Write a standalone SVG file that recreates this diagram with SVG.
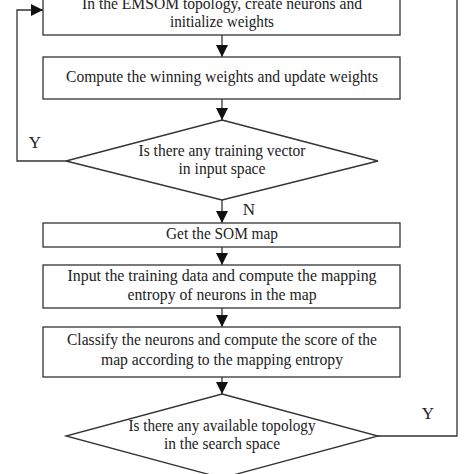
<svg xmlns="http://www.w3.org/2000/svg" width="474" height="474" viewBox="0 0 474 474">
<defs>
<style>
.n{fill:#fff;stroke:#333;stroke-width:1.3}
.t{font-family:"Liberation Serif","Times New Roman",serif;font-size:17px;fill:#222;text-anchor:middle}
.c{fill:none;stroke:#333;stroke-width:1.3}
</style>
<marker id="a" viewBox="0 0 10 10" refX="10" refY="5" markerWidth="12" markerHeight="12" markerUnits="userSpaceOnUse" orient="auto">
<path d="M0,0 L10,5 L0,10 Z" fill="#111"/>
</marker>
</defs>
<rect width="474" height="474" fill="#fff"/>
<g id="connectors">
<line class="c" x1="222" y1="35" x2="222" y2="57" marker-end="url(#a)"/>
<line class="c" x1="222" y1="99" x2="222" y2="120" marker-end="url(#a)"/>
<polyline class="c" points="66,161 17,161 17,10 43,10" marker-end="url(#a)"/>
<line class="c" x1="222" y1="200" x2="222" y2="223" marker-end="url(#a)"/>
<line class="c" x1="222" y1="247" x2="222" y2="265" marker-end="url(#a)"/>
<line class="c" x1="222" y1="308" x2="222" y2="327" marker-end="url(#a)"/>
<line class="c" x1="222" y1="377" x2="222" y2="394" marker-end="url(#a)"/>
<polyline class="c" points="378,436 457,436 457,-5"/>
<text class="t" x="35" y="148">Y</text>
<text class="t" x="249" y="215">N</text>
<text class="t" x="428" y="419">Y</text>
</g>
<g id="n1">
<rect class="n" x="43" y="-8" width="357" height="43"/>
<text class="t" x="222" y="9" textLength="280" lengthAdjust="spacingAndGlyphs">In the EMSOM topology, create neurons and</text>
<text class="t" x="222" y="27" textLength="104" lengthAdjust="spacingAndGlyphs">initialize weights</text>
</g>
<g id="n2">
<rect class="n" x="43" y="57" width="357" height="42"/>
<text class="t" x="222" y="82" textLength="312" lengthAdjust="spacingAndGlyphs">Compute the winning weights and update weights</text>
</g>
<g id="n3">
<polygon class="n" points="222,120 378,161 222,200 66,161"/>
<text class="t" x="222" y="156" textLength="167" lengthAdjust="spacingAndGlyphs">Is there any training vector</text>
<text class="t" x="222" y="174" textLength="87" lengthAdjust="spacingAndGlyphs">in input space</text>
</g>
<g id="n4">
<rect class="n" x="43" y="223" width="357" height="24"/>
<text class="t" x="222" y="239" textLength="112" lengthAdjust="spacingAndGlyphs">Get the SOM map</text>
</g>
<g id="n5">
<rect class="n" x="43" y="265" width="357" height="43"/>
<text class="t" x="222" y="281" textLength="309" lengthAdjust="spacingAndGlyphs">Input the training data and compute the mapping</text>
<text class="t" x="222" y="300" textLength="189" lengthAdjust="spacingAndGlyphs">entropy of neurons in the map</text>
</g>
<g id="n6">
<rect class="n" x="43" y="327" width="357" height="50"/>
<text class="t" x="222" y="345" textLength="310" lengthAdjust="spacingAndGlyphs">Classify the neurons and compute the score of the</text>
<text class="t" x="222" y="365" textLength="242" lengthAdjust="spacingAndGlyphs">map according to the mapping entropy</text>
</g>
<g id="n7">
<polygon class="n" points="222,394 378,436 222,478 66,436"/>
<text class="t" x="222" y="431" textLength="187" lengthAdjust="spacingAndGlyphs">Is there any available topology</text>
<text class="t" x="222" y="449" textLength="116" lengthAdjust="spacingAndGlyphs">in the search space</text>
</g>
</svg>
